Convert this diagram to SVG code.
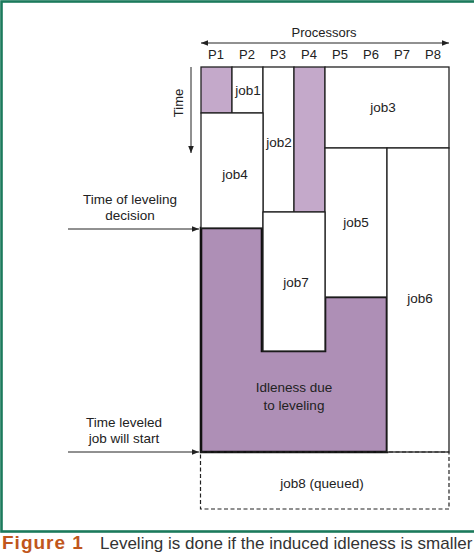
<svg xmlns="http://www.w3.org/2000/svg" width="474" height="553" viewBox="0 0 474 553">
<style>
  text { font-family: "Liberation Sans", Arial, sans-serif; font-size: 13px; fill: #222; }
  .c { text-anchor: middle; }
  .j { font-size: 13.5px; }
  .cell { fill: #fff; stroke: #222; stroke-width: 1.3; }
  .lp { fill: #c4a9ca; stroke: #222; stroke-width: 1.3; }
  .conn { stroke: #222; stroke-width: 1; fill: none; }
</style>
<defs>
  <marker id="ah" viewBox="0 0 10 10" refX="10" refY="5" markerWidth="7" markerHeight="7" orient="auto-start-reverse" markerUnits="userSpaceOnUse">
    <path d="M0,1 L10,5 L0,9 Z" fill="#222"/>
  </marker>
</defs>
<rect x="1.5" y="1.5" width="480" height="530" fill="#fff" stroke="#1b7a5c" stroke-width="2.6"/>

<g id="axes">
  <text class="c" x="324" y="37">Processors</text>
  <text class="c" x="216" y="59">P1</text>
  <text class="c" x="247" y="59">P2</text>
  <text class="c" x="278" y="59">P3</text>
  <text class="c" x="309" y="59">P4</text>
  <text class="c" x="340" y="59">P5</text>
  <text class="c" x="371" y="59">P6</text>
  <text class="c" x="402" y="59">P7</text>
  <text class="c" x="433" y="59">P8</text>
  <text class="c" x="0" y="0" transform="translate(183,103) rotate(-90)">Time</text>
</g>

<g id="idleness">
  <path d="M201,228 H262 V351 H325 V297 H387 V452 H201 Z" fill="#ae8fb6" stroke="#111" stroke-width="2.6"/>
  <text class="c j" x="294" y="392">Idleness due</text>
  <text class="c j" x="294" y="410">to leveling</text>
</g>
<g id="p1idle"><rect class="lp" x="201" y="67" width="31" height="46"/></g>
<g id="job1"><rect class="cell" x="232" y="67" width="31" height="46"/><text class="c j" x="248" y="95">job1</text></g>
<g id="job2"><rect class="cell" x="263" y="67" width="31" height="145"/><text class="c j" x="279" y="147">job2</text></g>
<g id="p4idle"><rect class="lp" x="294" y="67" width="31" height="145"/></g>
<g id="job3"><rect class="cell" x="325" y="67" width="124" height="81"/><text class="c j" x="383" y="112">job3</text></g>
<g id="job4"><rect class="cell" x="201" y="113" width="62" height="115"/><text class="c j" x="235" y="179">job4</text></g>
<g id="job5"><rect class="cell" x="325" y="148" width="62" height="149"/><text class="c j" x="356" y="227">job5</text></g>
<g id="job6"><rect class="cell" x="387" y="148" width="62" height="304"/><text class="c j" x="420" y="303">job6</text></g>
<g id="job7"><rect class="cell" x="263" y="212" width="62" height="139"/><text class="c j" x="296" y="287">job7</text></g>
<g id="job8"><rect x="200.5" y="452" width="248.5" height="57" fill="none" stroke="#222" stroke-width="1.2" stroke-dasharray="4,2.5"/><text class="c j" x="322" y="488">job8 (queued)</text></g>

<g id="labels">
  <text class="c j" x="130" y="204">Time of leveling</text>
  <text class="c j" x="130" y="220">decision</text>
  <text class="c j" x="124" y="427">Time leveled</text>
  <text class="c j" x="124" y="443">job will start</text>
</g>

<g id="connectors">
  <line class="conn" x1="201" y1="43" x2="449" y2="43" marker-start="url(#ah)" marker-end="url(#ah)"/>
  <line class="conn" x1="191" y1="67" x2="191" y2="153" marker-end="url(#ah)"/>
  <line class="conn" x1="68" y1="229" x2="199" y2="229" marker-end="url(#ah)"/>
  <line class="conn" x1="68" y1="452" x2="199" y2="452" marker-end="url(#ah)"/>
</g>

<g id="caption">
  <text x="2" y="549" style="font-size:19px;font-weight:bold;fill:#c0561c;letter-spacing:1px">Figure 1</text>
  <text x="100" y="549" style="font-size:17px;fill:#333">Leveling is done if the induced idleness is smaller</text>
</g>
</svg>
